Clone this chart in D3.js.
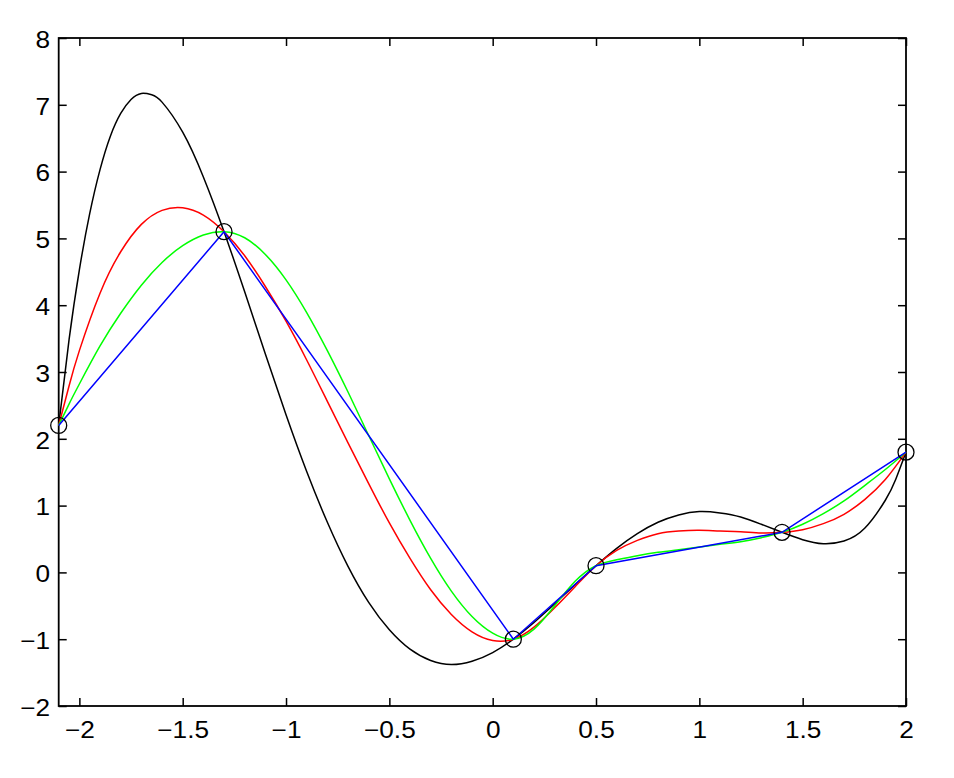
<!DOCTYPE html>
<html>
<head>
<meta charset="utf-8">
<script src="https://cdn.jsdelivr.net/npm/d3@7"></script>
<style>
  body { margin: 0; background: #fff; }
  svg text { font-family: "Liberation Sans", Arial, sans-serif; font-size: 23px; fill: #000; }
</style>
</head>
<body>
<svg id="chart" width="954" height="778"></svg>
<script>
// data points (circles)
const pointsX = [-2.1, -1.3, 0.1, 0.5, 1.4, 2];
const pointsY = [2.2, 5.1, -1, 0.1, 0.6, 1.8];

// black curve
const blackX = [-2.1, -2.05, -2.0, -1.95, -1.9, -1.85, -1.8, -1.75, -1.7, -1.65, -1.6, -1.5, -1.4, -1.3, -1.2, -1.1, -1.0,
  -0.9, -0.8, -0.7, -0.6, -0.5, -0.4, -0.3, -0.2, -0.1, 0, 0.1, 0.2, 0.3, 0.4, 0.5, 0.6, 0.7, 0.8,
  0.9, 1.0, 1.1, 1.2, 1.3, 1.4, 1.5, 1.6, 1.7, 1.8, 1.9, 1.95, 2.0];
const blackY = [2.2, 3.48, 4.53, 5.37, 6.03, 6.53, 6.87, 7.08, 7.17, 7.15, 7.04, 6.59, 5.92, 5.1, 4.20, 3.27, 2.36,
  1.51, 0.75, 0.09, -0.45, -0.86, -1.15, -1.32, -1.38, -1.33, -1.20, -1.0, -0.75, -0.47, -0.18, 0.1, 0.36, 0.58, 0.75,
  0.86, 0.91, 0.89, 0.83, 0.72, 0.6, 0.49, 0.43, 0.47, 0.66, 1.08, 1.39, 1.8];

// red curve
const redX = [-2.1, -2.05, -2.0, -1.9, -1.8, -1.7, -1.6, -1.5, -1.4, -1.3, -1.2, -1.1, -1.0,
  -0.9, -0.8, -0.7, -0.6, -0.5, -0.4, -0.3, -0.2, -0.1, 0, 0.1, 0.2, 0.3, 0.4, 0.5, 0.6, 0.7, 0.8,
  0.9, 1.0, 1.1, 1.2, 1.3, 1.4, 1.5, 1.6, 1.7, 1.8, 1.9, 2.0];
const redY = [2.2, 2.79, 3.32, 4.18, 4.80, 5.21, 5.42, 5.46, 5.35, 5.1, 4.74, 4.28, 3.76,
  3.18, 2.56, 1.94, 1.33, 0.74, 0.21, -0.26, -0.63, -0.89, -1.02, -1.0, -0.82, -0.53, -0.21, 0.1, 0.33, 0.48, 0.58,
  0.62, 0.63, 0.62, 0.61, 0.59, 0.6, 0.64, 0.73, 0.87, 1.09, 1.39, 1.8];

// green curve
const greenX = [-2.1, -2.05, -2.0, -1.9, -1.8, -1.7, -1.6, -1.5, -1.4, -1.3, -1.2, -1.1, -1.0,
  -0.9, -0.8, -0.7, -0.6, -0.5, -0.4, -0.3, -0.2, -0.1, 0, 0.1, 0.2, 0.3, 0.4, 0.5, 0.6, 0.7, 0.8,
  0.9, 1.0, 1.1, 1.2, 1.3, 1.4, 1.5, 1.6, 1.7, 1.8, 1.9, 2.0];
const greenY = [2.2, 2.52, 2.82, 3.39, 3.88, 4.30, 4.64, 4.89, 5.05, 5.1, 5.01, 4.76, 4.38,
  3.89, 3.32, 2.70, 2.05, 1.40, 0.78, 0.21, -0.28, -0.66, -0.91, -1.0, -0.85, -0.50, -0.13, 0.1, 0.19, 0.25, 0.30,
  0.34, 0.38, 0.42, 0.46, 0.52, 0.6, 0.72, 0.88, 1.07, 1.30, 1.54, 1.8];

const xTicks = [-2, -1.5, -1, -0.5, 0, 0.5, 1, 1.5, 2];
const yTicks = [-2, -1, 0, 1, 2, 3, 4, 5, 6, 7, 8];

const svg = d3.select("#chart");
const plotL = 58.7, plotR = 906, plotT = 38, plotB = 706;

let x = d3.scaleLinear().domain([-2.1, 2]).range([plotL, plotR]);
let y = d3.scaleLinear().domain([-2, 8]).range([plotB, plotT]);

const fmt = (v) => String(v).replace("-", "\u2212");

// axes box with inward ticks on all sides
svg.append("g").attr("transform", `translate(0,${plotB})`)
  .call(d3.axisBottom(x).tickValues(xTicks).tickSize(-8).tickPadding(16).tickFormat(fmt));
svg.append("g").attr("transform", `translate(0,${plotT})`)
  .call(d3.axisTop(x).tickValues(xTicks).tickSize(-8).tickFormat(""));
let yAxis = svg.append("g").attr("transform", `translate(${plotL},0)`)
  .call(d3.axisLeft(y).tickValues(yTicks).tickSize(-8).tickPadding(7.5).tickFormat(fmt));
svg.append("g").attr("transform", `translate(${plotR},0)`)
  .call(d3.axisRight(y).tickValues(yTicks).tickSize(-8).tickFormat(""));

svg.selectAll(".domain").remove();
svg.selectAll(".tick line").attr("stroke", "#000").attr("stroke-width", 1.5);
// the reference glyphs are a little wider than Liberation Sans
svg.selectAll(".tick text").style("font-size", "23px").attr("transform", "scale(1.14,1)");
yAxis.selectAll(".tick text").attr("dy", "0.4em");

svg.append("rect")
  .attr("x", plotL).attr("y", plotT)
  .attr("width", plotR - plotL).attr("height", plotB - plotT)
  .attr("fill", "none").attr("stroke", "#000").attr("stroke-width", 1.8);

const curve = (xs, ys, color, kind) => {
  let line = d3.line()
    .x((d, i) => x(xs[i]))
    .y((d, i) => y(ys[i]))
    .curve(kind);
  svg.append("path")
    .attr("d", line(xs))
    .attr("fill", "none")
    .attr("stroke", color)
    .attr("stroke-width", 1.5);
};

curve(blackX, blackY, "#000", d3.curveNatural);
curve(redX, redY, "#ff0000", d3.curveNatural);
curve(greenX, greenY, "#00ff00", d3.curveNatural);
curve(pointsX, pointsY, "#0000ff", d3.curveLinear);

svg.selectAll("circle.pt")
  .data(pointsX)
  .join("circle")
  .attr("class", "pt")
  .attr("cx", (d) => x(d))
  .attr("cy", (d, i) => y(pointsY[i]))
  .attr("r", 8)
  .attr("fill", "none")
  .attr("stroke", "#000")
  .attr("stroke-width", 1.3);
</script>
</body>
</html>
